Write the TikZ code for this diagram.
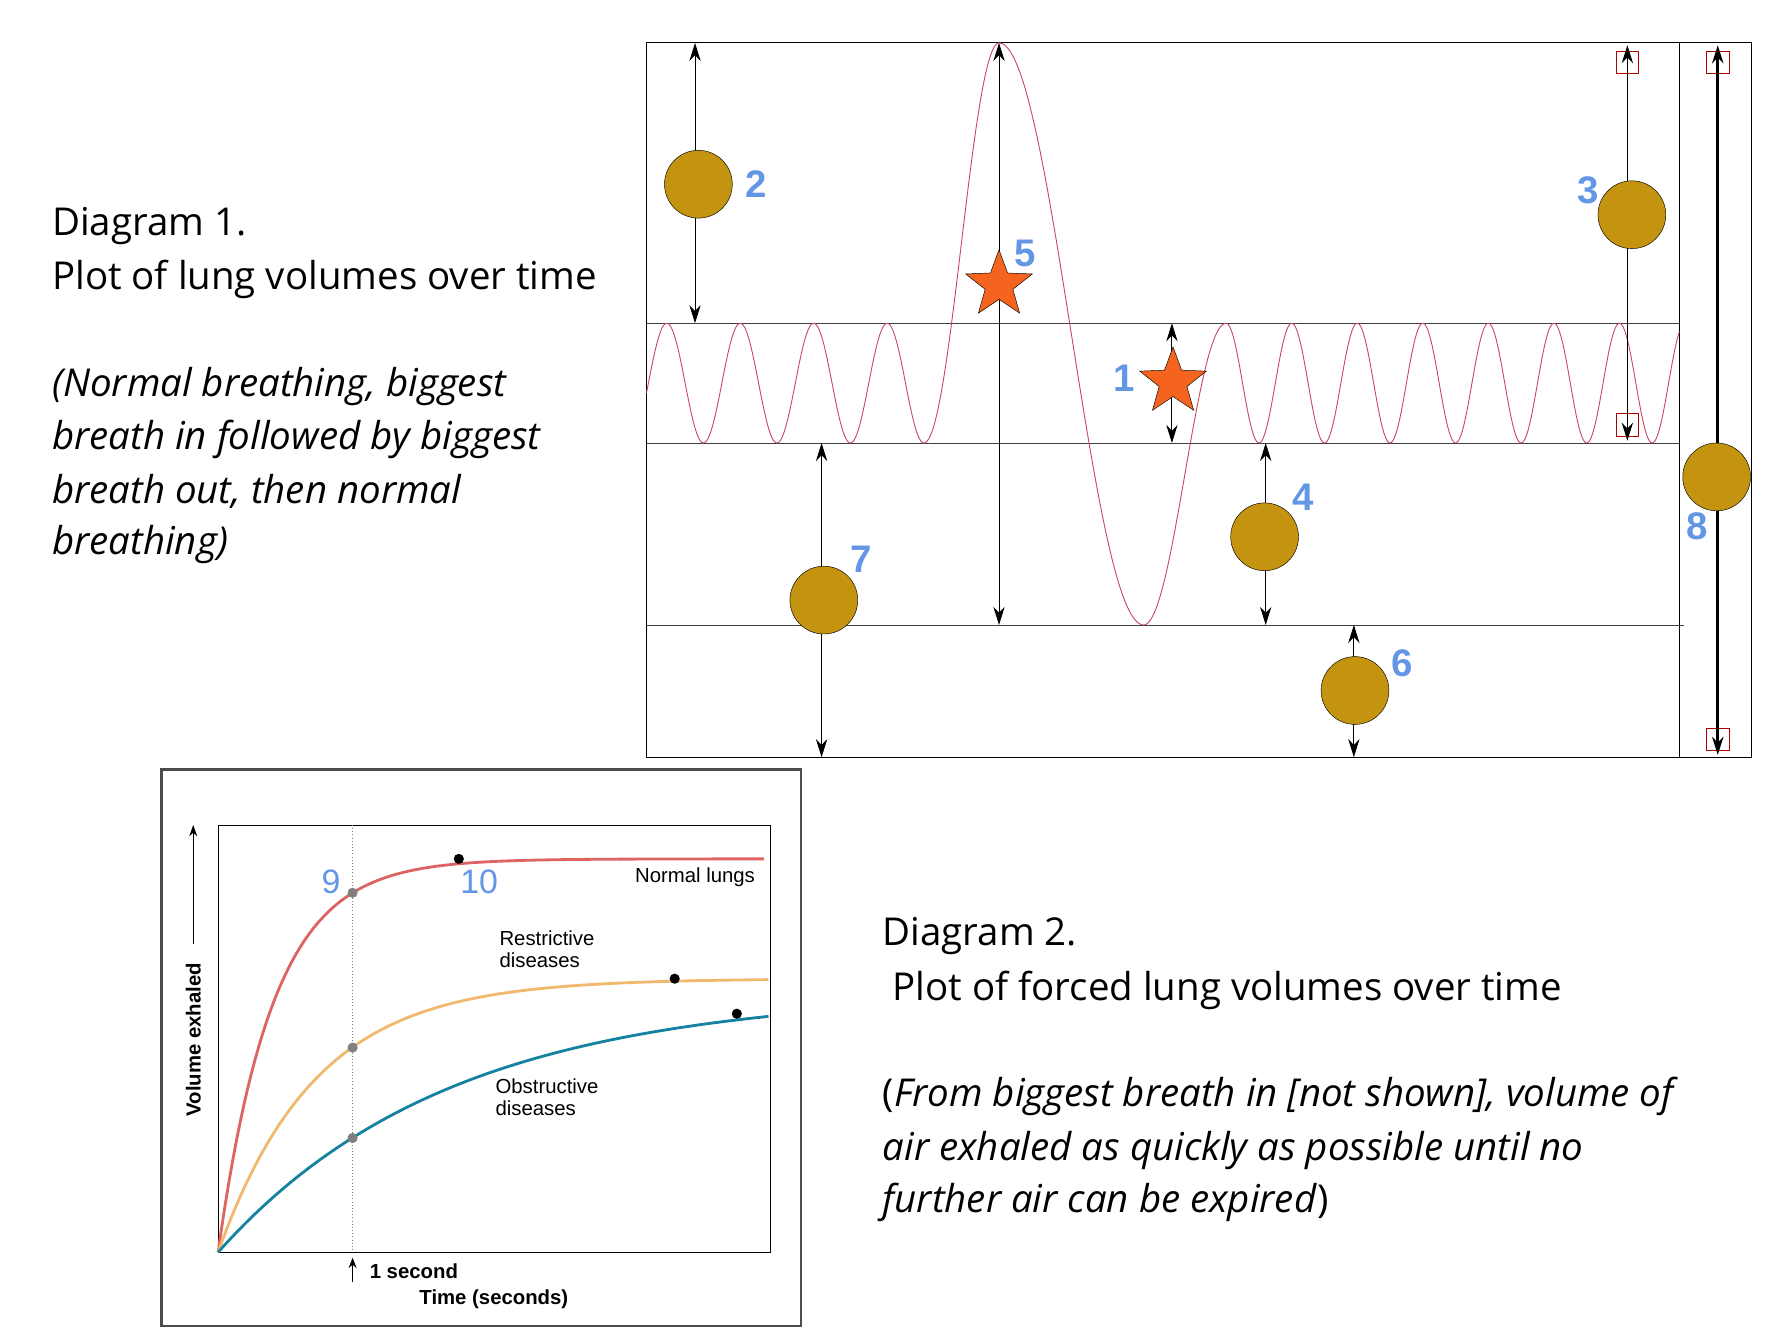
\documentclass[tikz,border=0pt]{standalone}
\usepackage{fontspec}
\setmainfont{Open Sans}
\setsansfont{Liberation Sans}
\usetikzlibrary{shapes.geometric,arrows.meta}
\definecolor{wave}{RGB}{200,70,100}
\definecolor{gold}{RGB}{196,148,16}
\definecolor{lblue}{RGB}{100,150,230}
\definecolor{starc}{RGB}{245,100,30}
\definecolor{nred}{RGB}{222,100,100}
\definecolor{rorange}{RGB}{240,185,110}
\definecolor{oteal}{RGB}{20,130,160}
\tikzset{
 ball/.style={circle,draw=black,fill=gold,minimum size=60pt,inner sep=0pt},
 starn/.style={star,star points=5,star point ratio=2.4,draw=black,fill=starc,minimum size=62pt,inner sep=0pt},
 num/.style={text=lblue,font=\sffamily\bfseries\fontsize{34}{34}\selectfont},
 dbl/.style={{Stealth[length=16pt,width=10pt]}-{Stealth[length=16pt,width=10pt]},thick},
 sq/.style={draw=red!70!black,minimum size=20pt,inner sep=0pt},
 txt/.style={anchor=west,font=\fontsize{34}{34}\selectfont,inner sep=0pt},
 small/.style={font=\sffamily\fontsize{18}{20}\selectfont,align=left,inner sep=0pt},
 ax/.style={font=\sffamily\bfseries\fontsize{18}{20}\selectfont,inner sep=0pt},
}
\begin{document}
\begin{tikzpicture}[x=1pt,y=-1pt]
\useasboundingbox (0,0) rectangle (1568,1176);
% Diagram 1 frame
\draw[thick] (572,38) rectangle (1550,670);
\draw[thick] (1486,38) -- (1486,670);
\draw[thick,black!75] (572,286) -- (1486,286);
\draw[thick,black!75] (572,392) -- (1486,392);
\draw[thick,black!75] (572,553) -- (1490,553);
% wave
\draw[wave,thick] plot[domain=572:817.5,samples=200] (\x,{339-53*cos(5.53846*(\x-590))})
 -- plot[domain=817.5:884,samples=50] (\x,{215-177*cos(2.70677*(\x-884))})
 -- plot[domain=884:1012,samples=80] (\x,{295.5-257.5*cos(1.40625*(\x-884))})
 -- plot[domain=1012:1085,samples=50] (\x,{419.5+133.5*cos(2.46575*(\x-1012))})
 -- plot[domain=1085:1486,samples=300] (\x,{339-53*cos(6.2069*(\x-1085))});
% arrows
\coordinate (a2t) at (615,38); \coordinate (a2b) at (615,286);
\draw[dbl] (a2t) -- (a2b);
\node[ball] (b2) at (618,163) {}; \node[num] (n2) at (669,163) {2};
\coordinate (a5t) at (884,38); \coordinate (a5b) at (884,553);
\draw[dbl] (a5t) -- (a5b);
\node[starn] (s5) at (884,252) {}; \node[num] (n5) at (907,224) {5};
\coordinate (a1t) at (1037,286); \coordinate (a1b) at (1037,392);
\draw[dbl] (a1t) -- (a1b);
\node[starn] (s1) at (1038,338) {}; \node[num] (n1) at (995,335) {1};
\node[sq] (q3a) at (1440,55) {}; \node[sq] (q3b) at (1440,376) {};
\coordinate (a3t) at (1440,40); \coordinate (a3b) at (1440,390);
\draw[dbl] (a3t) -- (a3b);
\node[ball] (b3) at (1444,190) {}; \node[num] (n3) at (1405,168) {3};
\node[sq] (q8a) at (1520,55) {}; \node[sq] (q8b) at (1520,654) {};
\coordinate (a8t) at (1520,40); \coordinate (a8b) at (1520,668);
\draw[dbl,line width=2.5pt] (a8t) -- (a8b);
\node[ball] (b8) at (1519,422) {}; \node[num] (n8) at (1502,466) {8};
\coordinate (a7t) at (727,392); \coordinate (a7b) at (727,670);
\draw[dbl] (a7t) -- (a7b);
\node[ball] (b7) at (729,531) {}; \node[num] (n7) at (762,495) {7};
\coordinate (a4t) at (1120,392); \coordinate (a4b) at (1120,553);
\draw[dbl] (a4t) -- (a4b);
\node[ball] (b4) at (1119,475) {}; \node[num] (n4) at (1153,440) {4};
\coordinate (a6t) at (1198,553); \coordinate (a6b) at (1198,670);
\draw[dbl] (a6t) -- (a6b);
\node[ball] (b6) at (1199,611) {}; \node[num] (n6) at (1241,587) {6};
% Diagram 1 text
\node[txt] (t1) at (46,200) {Diagram 1.};
\node[txt] (t2) at (46,247) {Plot of lung volumes over time};
\node[txt] (t3) at (46,342) {\itshape (Normal breathing, biggest};
\node[txt] (t4) at (46,389) {\itshape breath in followed by biggest};
\node[txt] (t5) at (46,435) {\itshape breath out, then normal};
\node[txt] (t6) at (46,482) {\itshape breathing)};
% Diagram 2
\draw[line width=2pt,black!70] (143,681) rectangle (709,1173);
\draw[thick] (193,730) rectangle (682,1108);
\draw[gray,dotted,thick] (312,730) -- (312,1108);
\draw[nred,line width=2.5pt] plot[domain=193:676,samples=150] (\x,{1108-348*(1-exp(-(\x-193)/48.6))});
\draw[rorange,line width=2.5pt] plot[domain=193:680,samples=150] (\x,{1108-242*(1-exp(-(\x-193)/86))});
\draw[oteal,line width=2.5pt] plot[domain=193:680,samples=150] (\x,{1108-230*(1-exp(-(\x-193)/205))});
\foreach \yy in {790,927,1007} \fill[gray] (312,\yy) circle (4.5pt);
\fill (406,760) circle (4.5pt); \fill (597,866) circle (4.5pt); \fill (652,897) circle (4.5pt);
\node[num,font=\sffamily\fontsize{30}{30}\selectfont] (n9) at (293,780) {9};
\node[num,font=\sffamily\fontsize{30}{30}\selectfont] (n10) at (424,780) {10};
\node[small] (nl) at (615,776) {Normal lungs};
\node[small] (rd) at (484,840) {Restrictive\\diseases};
\node[small] (od) at (484,971) {Obstructive\\diseases};
\node[ax,rotate=90] (vy) at (171,920) {Volume exhaled};
\coordinate (vyt) at (171,730); \coordinate (vyb) at (171,835);
\draw[-{Stealth[length=10pt,width=7pt]},thick] (vyb) -- (vyt);
\coordinate (s1b) at (312,1134); \coordinate (s1t) at (312,1113);
\draw[-{Stealth[length=9pt,width=7pt]},thick] (s1b) -- (s1t);
\node[ax,anchor=west] (sec) at (327,1125) {1 second};
\node[ax] (tx) at (437,1150) {Time (seconds)};
% Diagram 2 text
\node[txt] (u1) at (781,828) {Diagram 2.};
\node[txt] (u2) at (781,876) {\ Plot of forced lung volumes over time};
\node[txt] (u3) at (781,970) {(\textit{From biggest breath in [not shown], volume of}};
\node[txt] (u4) at (781,1018) {\itshape air exhaled as quickly as possible until no};
\node[txt] (u5) at (781,1064) {\textit{further air can be expired})};
\end{tikzpicture}
\end{document}
